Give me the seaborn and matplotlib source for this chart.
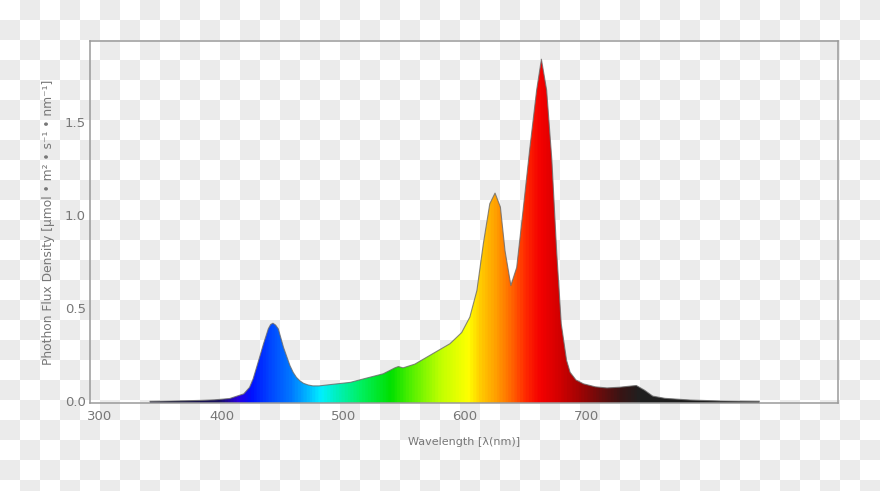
import numpy as np
import pandas as pd
import matplotlib
matplotlib.use("Agg")
import matplotlib.pyplot as plt
from matplotlib.colors import LinearSegmentedColormap
import seaborn as sns

# spectrum
wavelength = [341.0, 369.9, 382.4, 394.0, 406.5, 418.1, 422.9, 425.8, 428.7, 431.5,
              434.4, 438.3, 440.2, 442.1, 444.3, 446.5, 450.8, 453.5, 456.1, 458.8,
              461.4, 464.3, 467.2, 471.0, 474.9, 480.0, 489.3, 505.7, 517.3, 532.7,
              542.3, 545.2, 549.0, 558.7, 573.1, 587.6, 597.2, 603.9, 609.7, 615.0,
              620.3, 624.6, 629.0, 632.8, 637.6, 642.4, 647.7, 653.0, 658.8, 662.7,
              667.0, 671.3, 675.2, 679.0, 683.4, 686.3, 691.1, 697.3, 707.0, 716.6,
              727.2, 735.9, 740.7, 747.4, 754.2, 764.3, 785.0, 809.0, 841.8]
flux = [0.0, 0.003, 0.005, 0.008, 0.015, 0.04, 0.075, 0.12, 0.183, 0.245,
        0.31, 0.39, 0.413, 0.42, 0.41, 0.39, 0.29, 0.24, 0.192, 0.155,
        0.129, 0.11, 0.097, 0.088, 0.083, 0.083, 0.09, 0.102, 0.122, 0.148,
        0.18, 0.187, 0.18, 0.2, 0.255, 0.31, 0.37, 0.453, 0.596, 0.848,
        1.063, 1.12, 1.045, 0.81, 0.623, 0.72, 1.03, 1.35, 1.674, 1.84,
        1.674, 1.297, 0.81, 0.417, 0.22, 0.156, 0.115, 0.094, 0.078, 0.072,
        0.076, 0.082, 0.085, 0.06, 0.028, 0.016, 0.007, 0.002, 0.0]
x_ticks = [300, 400, 500, 600, 700]
y_ticks = [0.0, 0.5, 1.0, 1.5]

spectrum = pd.DataFrame({"wavelength": wavelength, "flux": flux})

x_lo, x_hi = 291.8, 906.4
y_lo, y_hi = -0.009, 1.938

# colour of the fill along the wavelength axis
stop_nm = [x_lo, 358, 397, 412.6, 423.3, 439.7, 456.1, 468.4, 480.8, 493.1, 513.6,
           538.3, 554.7, 579.4, 602.4, 612.2, 624.6, 636.9, 649.2, 661.5, 678,
           694.4, 710.8, 727.3, 743.7, x_hi]
stop_col = ["#14142a", "#14143a", "#1a1060", "#2800e0", "#0010ff", "#0048ff",
            "#0078ff", "#00b0ff", "#00f0ff", "#00f0c0", "#00f060", "#00e000",
            "#50f000", "#c0ff00", "#ffff00", "#ffcc00", "#ffa000", "#ff6a00",
            "#ff2a00", "#f50000", "#d00000", "#a00404", "#6a0c0c", "#3a1414",
            "#202020", "#181818"]
pos = [(v - x_lo) / (x_hi - x_lo) for v in stop_nm]
spec_cmap = LinearSegmentedColormap.from_list("spec", list(zip(pos, stop_col)))

sns.set_theme(style="white")
plt.rcParams["font.family"] = ["DejaVu Sans"]

fig = plt.figure(figsize=(8.8, 4.91), dpi=100)

# transparent-background checkerboard
bg = fig.add_axes([0, 0, 1, 1], zorder=0)
board = np.add.outer(np.arange(25), np.arange(44)) % 2
bg.imshow(board, cmap=LinearSegmentedColormap.from_list("chk", ["#ffffff", "#ebebeb"]),
          extent=[0, 880, 500, 0], interpolation="nearest", aspect="auto")
bg.set_xlim(0, 880)
bg.set_ylim(491, 0)
bg.axis("off")

ax = fig.add_axes([90 / 880, 1 - 403 / 491, 748 / 880, 362 / 491], zorder=1)
ax.set_facecolor("none")

poly = ax.fill_between(spectrum["wavelength"], spectrum["flux"], y_lo,
                       facecolor="none", edgecolor="none")
grad = np.linspace(0, 1, 1200).reshape(1, -1)
img = ax.imshow(grad, cmap=spec_cmap, extent=[x_lo, x_hi, y_lo, y_hi],
                aspect="auto", interpolation="bilinear", origin="lower", zorder=2)
img.set_clip_path(poly.get_paths()[0], transform=ax.transData)

sns.lineplot(data=spectrum, x="wavelength", y="flux", ax=ax, color="#6a6a6a",
             linewidth=0.8, alpha=0.8, zorder=3)

ax.set_xlim(x_lo, x_hi)
ax.set_ylim(y_lo, y_hi)
ax.set_xticks(x_ticks)
ax.set_yticks(y_ticks)
ax.set_yticklabels([f"{v:.1f}" for v in y_ticks])
ax.tick_params(length=0, labelsize=9.5, colors="#777777")
ax.tick_params(axis="x", pad=5)
ax.tick_params(axis="y", pad=3)
for s in ax.spines.values():
    s.set_color("#9a9a9a")
    s.set_linewidth(1.1)

ax.set_xlabel("Wavelength [λ(nm)]", fontsize=8, color="#777777")
ax.xaxis.set_label_coords(0.5, -0.095)
ax.set_ylabel("Phothon Flux Density [µmol • m² • s⁻¹ • nm⁻¹]", fontsize=8.8,
              color="#777777", va="center")
ax.yaxis.set_label_coords(-0.055, 0.5)

fig.savefig("out.png", dpi=100)
